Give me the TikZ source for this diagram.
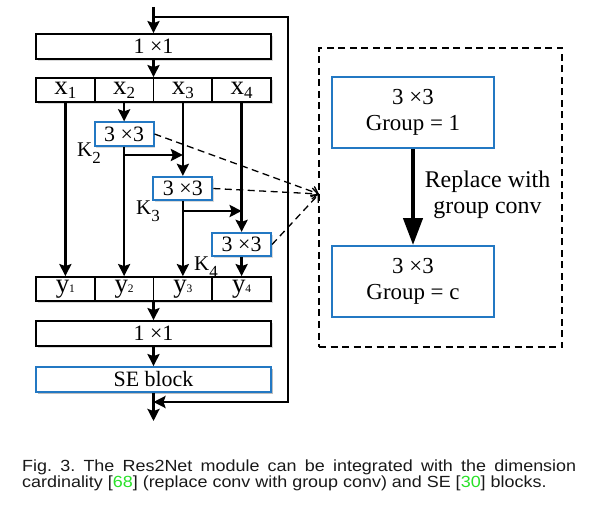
\documentclass[tikz,border=0pt]{standalone}
\usepackage{fontspec}
\setmainfont{Liberation Serif}
\newfontfamily\capfont{Liberation Sans}
\usetikzlibrary{arrows.meta,shadows,calc}
\definecolor{boxblue}{RGB}{35,120,195}
\definecolor{refgreen}{RGB}{40,225,40}
\definecolor{captext}{RGB}{25,25,25}
\newcommand\xsub[1]{\raisebox{-4bp}{\fontsize{17}{17}\selectfont #1}}
\newcommand\ysub[1]{{\fontsize{11.5}{11.5}\selectfont #1}}
\newcommand\ksub[1]{\raisebox{-6.5bp}{\fontsize{17}{17}\selectfont #1}}
\tikzset{
  box/.style={draw=black, line width=1.8bp, fill=white, inner sep=0pt,
    drop shadow={shadow xshift=1.8bp, shadow yshift=-1.8bp, opacity=0.3},
    font=\fontsize{22}{24}\selectfont},
  bluebox/.style={box, draw=boxblue},
  cell/.style={box, minimum width=58.75bp, minimum height=24bp, font=\fontsize{27}{27}\selectfont},
  widebox/.style={box, minimum width=235bp, minimum height=25bp},
  convbox/.style={bluebox, minimum width=59bp, minimum height=23.5bp},
  groupbox/.style={draw=boxblue, line width=1.8bp, fill=white, minimum width=162bp, minimum height=71bp,
    align=center, font=\fontsize{23}{26}\selectfont},
  arr/.style={line width=2.6bp, -{Stealth[length=12bp,width=12bp,inset=2bp]}},
  dasharr/.style={line width=1.3bp, dash pattern=on 7bp off 4.5bp, -{Straight Barb[length=6bp,width=11bp]}},
  klabel/.style={anchor=base west, inner sep=0pt, font=\fontsize{21}{21}\selectfont}
}
\begin{document}
\begin{tikzpicture}[x=1bp,y=-1bp]
\useasboundingbox (0,0) rectangle (595,505);

% left module
\node[widebox] (t1) at (153.5,46.5) {1 ×1};
\node[cell] (x1) at (65.375,90) {x\xsub{1}};
\node[cell] (x2) at (124.125,90) {x\xsub{2}};
\node[cell] (x3) at (182.875,90) {x\xsub{3}};
\node[cell] (x4) at (241.625,90) {x\xsub{4}};

\node[convbox] (b1) at (124.125,134) {3 ×3};
\node[convbox] (b2) at (182.875,188.5) {3 ×3};
\node[convbox] (b3) at (241.625,244.5) {3 ×3};

\node[klabel] (k2) at (77,157) {K\ksub{2}};
\node[klabel] (k3) at (136,215) {K\ksub{3}};
\node[klabel] (k4) at (194,270.5) {K\ksub{4}};

\node[cell] (y1) at (65.375,289) {y\ysub{1}};
\node[cell] (y2) at (124.125,289) {y\ysub{2}};
\node[cell] (y3) at (182.875,289) {y\ysub{3}};
\node[cell] (y4) at (241.625,289) {y\ysub{4}};

\node[widebox] (t2) at (153.5,333.5) {1 ×1};
\node[widebox, bluebox] (se) at (153.5,379.5) {SE block};

\coordinate (in) at (153.5,7);
\coordinate (sk1) at (153.5,17);
\coordinate (sk2) at (288,402);
\coordinate (out) at (153.5,421);
\coordinate (br1) at (124.125,155);
\coordinate (br2) at (182.875,211);

% main path
\draw[arr] (in) -- (t1.north);
\draw[arr] (t1.south) -- (t1.south |- x1.north);
\draw[arr] (y1.south -| t2.north) -- (t2.north);
\draw[arr] (t2.south) -- (se.north);
\draw[arr] (se.south) -- (out);
\draw[arr] (sk1) -| (sk2) -- (sk2 -| out);

% split branches
\draw[arr] (x1.south) -- (y1.north);
\draw[arr] (x2.south) -- (b1.north);
\draw[arr] (b1.south) -- (y2.north);
\draw[arr] (br1) -- (br1 -| x3.south);
\draw[arr] (x3.south) -- (b2.north);
\draw[arr] (b2.south) -- (y3.north);
\draw[arr] (br2) -- (br2 -| x4.south);
\draw[arr] (x4.south) -- (b3.north);
\draw[arr] (b3.south) -- (y4.north);

% right panel
\node[draw=black, line width=1.3bp, dash pattern=on 7bp off 4.5bp, minimum width=243bp, minimum height=299bp, inner sep=0pt] (rb) at (440.5,197.5) {};
\node[groupbox] (g1) at (413,112.5) {3 ×3\\Group = 1};
\node[groupbox] (gc) at (413,281.5) {3 ×3\\Group = c};
\draw[line width=4.2bp, -{Triangle[length=27bp,width=19bp]}] (g1.south) -- (gc.north);
\node[align=center, inner sep=0pt, font=\fontsize{24}{26}\selectfont] (rep) at (487.5,195) {Replace with\\group conv};

\coordinate (conv) at (319,194);
\draw[dasharr] (b1.east) -- (conv);
\draw[dasharr] (b2.east) -- (conv);
\draw[dasharr] (b3.east) -- (conv);

% caption
\node[anchor=base west, inner sep=0pt, text=captext] (cap) at (22,471.5)
  {\scalebox{1}[0.9]{\parbox[t]{554bp}{\capfont\fontsize{18}{15}\selectfont\frenchspacing
   Fig. 3. The Res2Net module can be integrated with the dimension\linebreak
   cardinality [\textcolor{refgreen}{68}] (replace conv with group conv) and SE [\textcolor{refgreen}{30}] blocks.}}};
\end{tikzpicture}
\end{document}
